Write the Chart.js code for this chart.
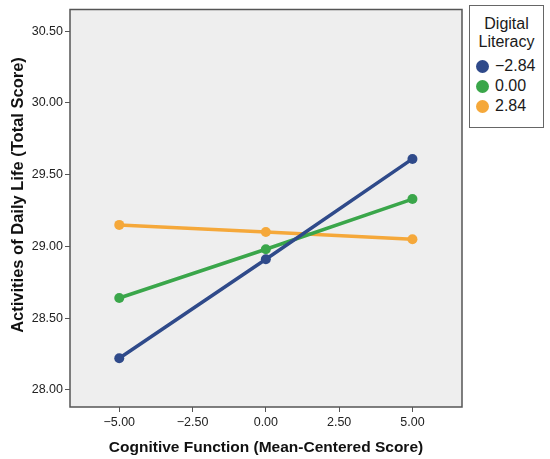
<!DOCTYPE html>
<html>
<head>
<meta charset="utf-8">
<script src="https://cdn.jsdelivr.net/npm/chart.js@4/dist/chart.umd.min.js"></script>
<style>
  html, body { margin: 0; padding: 0; background: #fff; }
  #wrap { position: relative; width: 550px; height: 459px; }
  #legend {
    position: absolute; left: 469px; top: 5px; width: 75px; height: 123px;
    border: 1px solid #666; background: #fff; box-sizing: border-box;
    font-family: "Liberation Sans", Arial, sans-serif; color: #1a1a1a;
  }
  #legend .title { text-align: center; font-size: 16px; line-height: 18px; margin-top: 9px; margin-bottom: 5px; }
  #legend .item { display: flex; align-items: center; font-size: 16px; height: 20px; padding-left: 6px; }
  #legend .dot { width: 13px; height: 13px; border-radius: 50%; margin-right: 6px; }
</style>
</head>
<body>
<div id="wrap">
  <canvas id="c" width="550" height="459"></canvas>
  <div id="legend"></div>
</div>
<script>
const xValues = [-5, 0, 5];
const seriesNames = ["\u22122.84", "0.00", "2.84"];
const lowDL = [28.22, 28.91, 29.61];
const meanDL = [28.64, 28.98, 29.33];
const highDL = [29.15, 29.10, 29.05];
const xTicks = [-5, -2.5, 0, 2.5, 5];
const yTicks = [28.0, 28.5, 29.0, 29.5, 30.0, 30.5];
const colors = ["#2f4a8a", "#3aa64a", "#f5a83a"];
const legendTitle = ["Digital", "Literacy"];
const xTitle = 'Cognitive Function (Mean-Centered Score)';
const yTitle = 'Activities of Daily Life (Total Score)';

const seriesValues = [lowDL, meanDL, highDL];
const fmt = v => (v < 0 ? "\u2212" : "") + Math.abs(v).toFixed(2);
const font = "'Liberation Sans', Arial, sans-serif";

const frame = {
  id: 'frame',
  beforeDraw(chart) {
    const {ctx, chartArea: a} = chart;
    ctx.save();
    ctx.fillStyle = '#eeeeee';
    ctx.fillRect(a.left, a.top, a.right - a.left, a.bottom - a.top);
    ctx.restore();
  },
  afterDraw(chart) {
    const {ctx, chartArea: a} = chart;
    ctx.save();
    ctx.strokeStyle = '#555';
    ctx.lineWidth = 1.5;
    ctx.strokeRect(a.left, a.top, a.right - a.left, a.bottom - a.top);
    // y-axis title (placed slightly above the axis centre, as in the reference)
    ctx.translate(18, 195);
    ctx.rotate(-Math.PI / 2);
    ctx.fillStyle = '#111';
    ctx.font = "bold 16.5px " + font;
    ctx.textAlign = 'center';
    ctx.textBaseline = 'middle';
    ctx.fillText(yTitle, 0, 0);
    ctx.restore();
  }
};

new Chart(document.getElementById('c'), {
  type: 'line',
  data: {
    datasets: seriesValues.map((vals, i) => ({
      label: seriesNames[i],
      data: xValues.map((x, j) => ({x: x, y: vals[j]})),
      borderColor: colors[i],
      backgroundColor: colors[i],
      borderWidth: 3.5,
      pointRadius: 5,
      pointHoverRadius: 5,
      pointBorderWidth: 0,
      tension: 0
    }))
  },
  options: {
    responsive: false,
    animation: false,
    events: [],
    layout: { padding: { top: 7, right: 88, bottom: 0, left: 0 } },
    plugins: { legend: { display: false }, tooltip: { enabled: false } },
    scales: {
      x: {
        type: 'linear',
        min: -6.68, max: 6.69,
        afterBuildTicks: s => { s.ticks = xTicks.map(v => ({value: v})); },
        afterFit: s => { s.height = 52; },
        ticks: { callback: v => fmt(v), color: '#222', font: { family: font, size: 12.5 }, padding: 3, maxRotation: 0 },
        grid: { drawOnChartArea: false, drawTicks: true, tickLength: 5, color: '#555' },
        border: { display: false },
        title: { display: true, text: xTitle, color: '#111', font: { family: font, size: 15.5, weight: 'bold' }, padding: { top: 4, bottom: 2 } }
      },
      y: {
        type: 'linear',
        min: 27.88, max: 30.652,
        afterBuildTicks: s => { s.ticks = yTicks.map(v => ({value: v})); },
        afterFit: s => { s.width = 70; },
        ticks: { callback: v => fmt(v), color: '#222', font: { family: font, size: 12.5 }, padding: 2 },
        grid: { drawOnChartArea: false, drawTicks: true, tickLength: 5, color: '#555' },
        border: { display: false },
        title: { display: false }
      }
    }
  },
  plugins: [frame]
});

const lg = document.getElementById('legend');
lg.innerHTML = '<div class="title">' + legendTitle.join('<br>') + '</div>' +
  seriesNames.map((n, i) => '<div class="item"><span class="dot" style="background:' + colors[i] + '"></span>' + n + '</div>').join('');
</script>
</body>
</html>
